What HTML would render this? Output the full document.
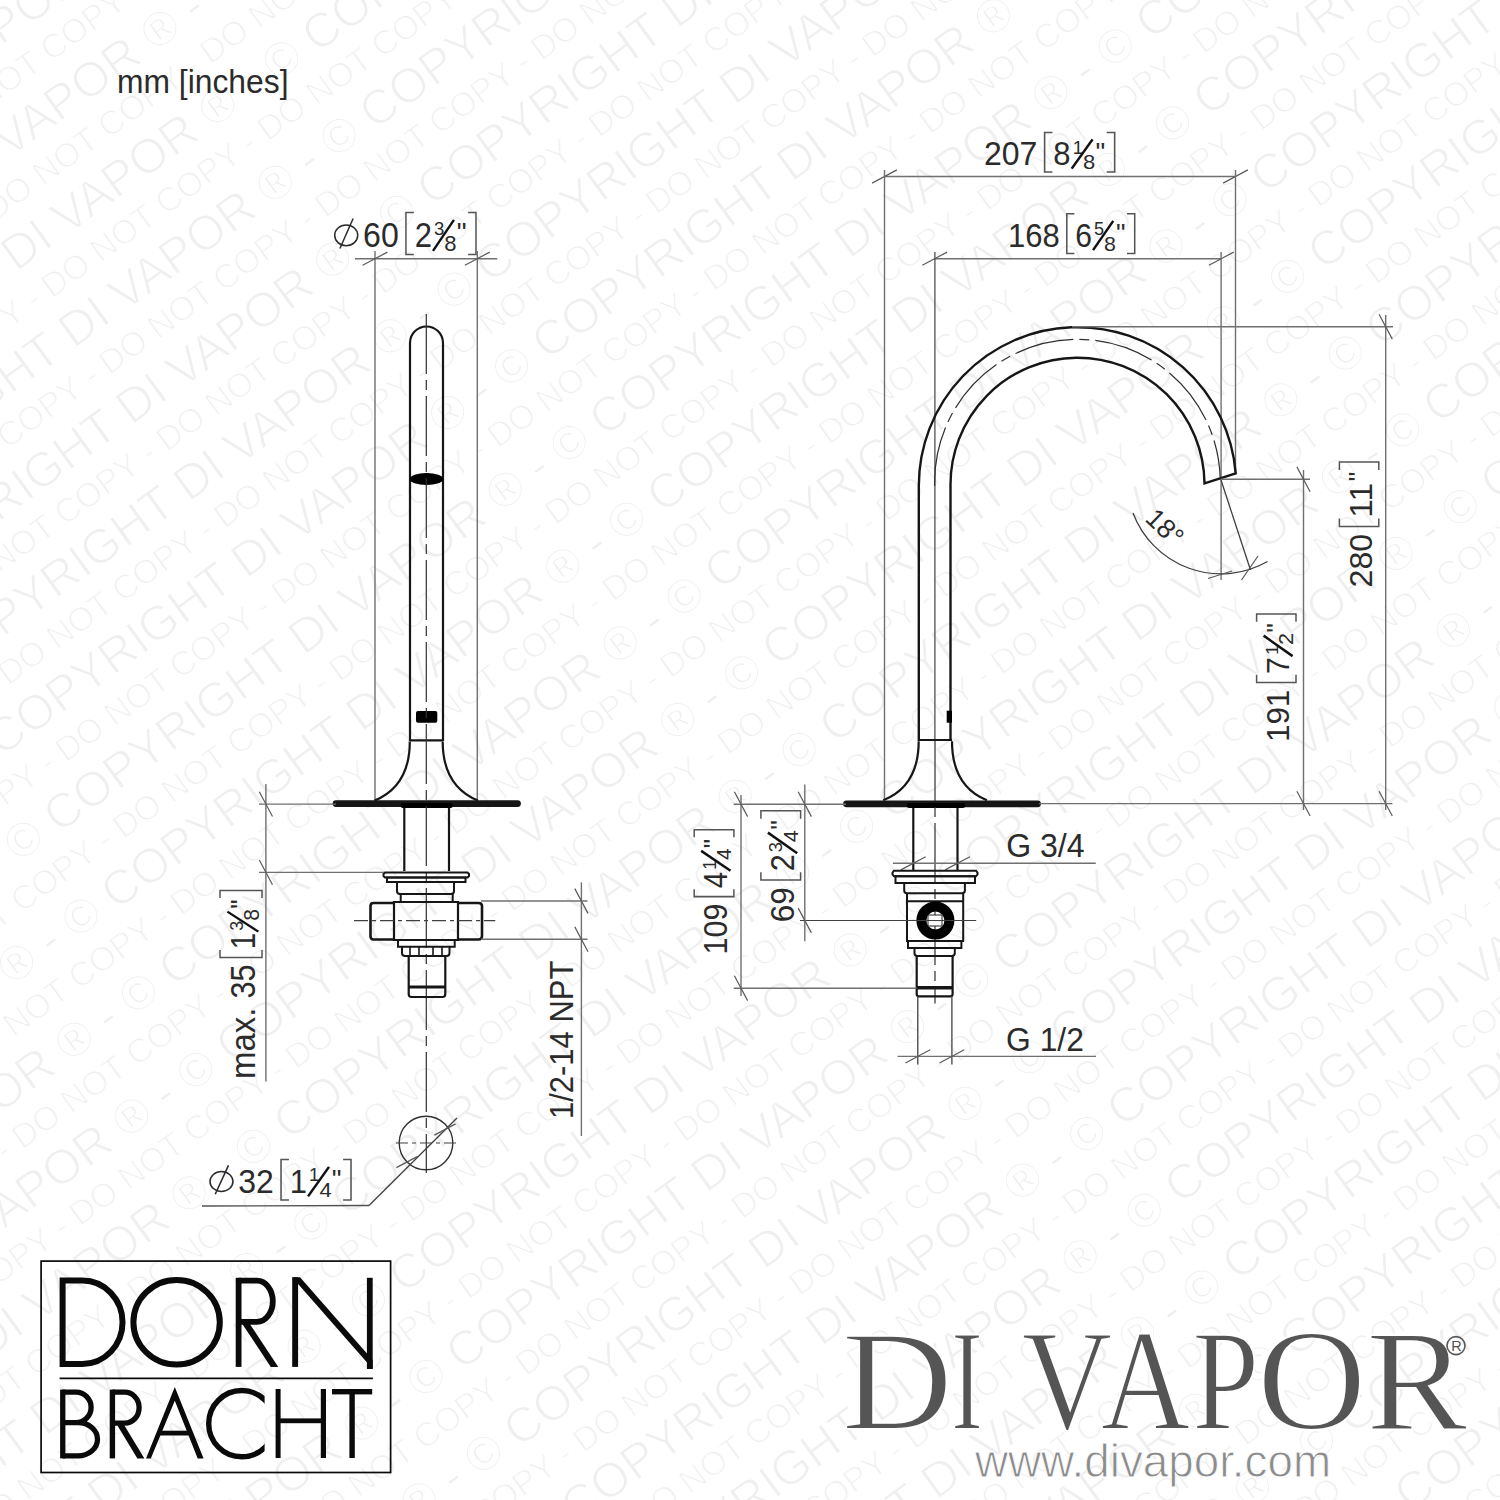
<!DOCTYPE html>
<html><head><meta charset="utf-8"><style>
html,body{margin:0;padding:0;background:#fff;}
svg{display:block;font-family:"Liberation Sans", sans-serif;}
</style></head><body>
<svg width="1500" height="1500" viewBox="0 0 1500 1500">
<rect width="1500" height="1500" fill="#fff"/>
<g transform="rotate(-36)" fill="#efefef" stroke="#fff" stroke-width="1.3" xml:space="preserve"><text x="-1181.1" y="-249.5" font-size="48.8">© COPYRIGHT DI VAPOR ® - © COPYRIGHT DI VAPOR ® - © COPYRIGHT DI VAPOR ® - © COPYRIGHT DI VAPOR ® - © COPYRIGHT DI VAPOR ® - </text><text x="-962.7" y="-207.3" font-size="34">- DO NOT COPY - DO NOT COPY - DO NOT COPY - DO NOT COPY - DO NOT COPY - DO NOT COPY - DO NOT COPY - DO NOT COPY - DO NOT COPY - DO NOT COPY </text><text x="-1179.7" y="-153.6" font-size="48.8">© COPYRIGHT DI VAPOR ® - © COPYRIGHT DI VAPOR ® - © COPYRIGHT DI VAPOR ® - © COPYRIGHT DI VAPOR ® - © COPYRIGHT DI VAPOR ® - </text><text x="-961.3" y="-111.4" font-size="34">- DO NOT COPY - DO NOT COPY - DO NOT COPY - DO NOT COPY - DO NOT COPY - DO NOT COPY - DO NOT COPY - DO NOT COPY - DO NOT COPY - DO NOT COPY </text><text x="-1178.3" y="-57.7" font-size="48.8">© COPYRIGHT DI VAPOR ® - © COPYRIGHT DI VAPOR ® - © COPYRIGHT DI VAPOR ® - © COPYRIGHT DI VAPOR ® - © COPYRIGHT DI VAPOR ® - </text><text x="-959.9" y="-15.5" font-size="34">- DO NOT COPY - DO NOT COPY - DO NOT COPY - DO NOT COPY - DO NOT COPY - DO NOT COPY - DO NOT COPY - DO NOT COPY - DO NOT COPY - DO NOT COPY </text><text x="-1176.9" y="38.2" font-size="48.8">© COPYRIGHT DI VAPOR ® - © COPYRIGHT DI VAPOR ® - © COPYRIGHT DI VAPOR ® - © COPYRIGHT DI VAPOR ® - © COPYRIGHT DI VAPOR ® - </text><text x="-958.5" y="80.4" font-size="34">- DO NOT COPY - DO NOT COPY - DO NOT COPY - DO NOT COPY - DO NOT COPY - DO NOT COPY - DO NOT COPY - DO NOT COPY - DO NOT COPY - DO NOT COPY </text><text x="-1175.5" y="134.1" font-size="48.8">© COPYRIGHT DI VAPOR ® - © COPYRIGHT DI VAPOR ® - © COPYRIGHT DI VAPOR ® - © COPYRIGHT DI VAPOR ® - © COPYRIGHT DI VAPOR ® - </text><text x="-957.1" y="176.3" font-size="34">- DO NOT COPY - DO NOT COPY - DO NOT COPY - DO NOT COPY - DO NOT COPY - DO NOT COPY - DO NOT COPY - DO NOT COPY - DO NOT COPY - DO NOT COPY </text><text x="-1174.1" y="230.0" font-size="48.8">© COPYRIGHT DI VAPOR ® - © COPYRIGHT DI VAPOR ® - © COPYRIGHT DI VAPOR ® - © COPYRIGHT DI VAPOR ® - © COPYRIGHT DI VAPOR ® - </text><text x="-955.7" y="272.2" font-size="34">- DO NOT COPY - DO NOT COPY - DO NOT COPY - DO NOT COPY - DO NOT COPY - DO NOT COPY - DO NOT COPY - DO NOT COPY - DO NOT COPY - DO NOT COPY </text><text x="-1172.7" y="325.9" font-size="48.8">© COPYRIGHT DI VAPOR ® - © COPYRIGHT DI VAPOR ® - © COPYRIGHT DI VAPOR ® - © COPYRIGHT DI VAPOR ® - © COPYRIGHT DI VAPOR ® - </text><text x="-954.3" y="368.1" font-size="34">- DO NOT COPY - DO NOT COPY - DO NOT COPY - DO NOT COPY - DO NOT COPY - DO NOT COPY - DO NOT COPY - DO NOT COPY - DO NOT COPY - DO NOT COPY </text><text x="-1171.3" y="421.8" font-size="48.8">© COPYRIGHT DI VAPOR ® - © COPYRIGHT DI VAPOR ® - © COPYRIGHT DI VAPOR ® - © COPYRIGHT DI VAPOR ® - © COPYRIGHT DI VAPOR ® - </text><text x="-952.9" y="464.0" font-size="34">- DO NOT COPY - DO NOT COPY - DO NOT COPY - DO NOT COPY - DO NOT COPY - DO NOT COPY - DO NOT COPY - DO NOT COPY - DO NOT COPY - DO NOT COPY </text><text x="-1169.9" y="517.7" font-size="48.8">© COPYRIGHT DI VAPOR ® - © COPYRIGHT DI VAPOR ® - © COPYRIGHT DI VAPOR ® - © COPYRIGHT DI VAPOR ® - © COPYRIGHT DI VAPOR ® - </text><text x="-951.5" y="559.9" font-size="34">- DO NOT COPY - DO NOT COPY - DO NOT COPY - DO NOT COPY - DO NOT COPY - DO NOT COPY - DO NOT COPY - DO NOT COPY - DO NOT COPY - DO NOT COPY </text><text x="-1168.5" y="613.6" font-size="48.8">© COPYRIGHT DI VAPOR ® - © COPYRIGHT DI VAPOR ® - © COPYRIGHT DI VAPOR ® - © COPYRIGHT DI VAPOR ® - © COPYRIGHT DI VAPOR ® - </text><text x="-950.1" y="655.8" font-size="34">- DO NOT COPY - DO NOT COPY - DO NOT COPY - DO NOT COPY - DO NOT COPY - DO NOT COPY - DO NOT COPY - DO NOT COPY - DO NOT COPY - DO NOT COPY </text><text x="-1167.1" y="709.5" font-size="48.8">© COPYRIGHT DI VAPOR ® - © COPYRIGHT DI VAPOR ® - © COPYRIGHT DI VAPOR ® - © COPYRIGHT DI VAPOR ® - © COPYRIGHT DI VAPOR ® - </text><text x="-1215.7" y="751.7" font-size="34">- DO NOT COPY - DO NOT COPY - DO NOT COPY - DO NOT COPY - DO NOT COPY - DO NOT COPY - DO NOT COPY - DO NOT COPY - DO NOT COPY - DO NOT COPY </text><text x="-1165.7" y="805.4" font-size="48.8">© COPYRIGHT DI VAPOR ® - © COPYRIGHT DI VAPOR ® - © COPYRIGHT DI VAPOR ® - © COPYRIGHT DI VAPOR ® - © COPYRIGHT DI VAPOR ® - </text><text x="-1214.3" y="847.6" font-size="34">- DO NOT COPY - DO NOT COPY - DO NOT COPY - DO NOT COPY - DO NOT COPY - DO NOT COPY - DO NOT COPY - DO NOT COPY - DO NOT COPY - DO NOT COPY </text><text x="-1164.3" y="901.3" font-size="48.8">© COPYRIGHT DI VAPOR ® - © COPYRIGHT DI VAPOR ® - © COPYRIGHT DI VAPOR ® - © COPYRIGHT DI VAPOR ® - © COPYRIGHT DI VAPOR ® - </text><text x="-1212.9" y="943.5" font-size="34">- DO NOT COPY - DO NOT COPY - DO NOT COPY - DO NOT COPY - DO NOT COPY - DO NOT COPY - DO NOT COPY - DO NOT COPY - DO NOT COPY - DO NOT COPY </text><text x="-1162.9" y="997.2" font-size="48.8">© COPYRIGHT DI VAPOR ® - © COPYRIGHT DI VAPOR ® - © COPYRIGHT DI VAPOR ® - © COPYRIGHT DI VAPOR ® - © COPYRIGHT DI VAPOR ® - </text><text x="-1211.5" y="1039.4" font-size="34">- DO NOT COPY - DO NOT COPY - DO NOT COPY - DO NOT COPY - DO NOT COPY - DO NOT COPY - DO NOT COPY - DO NOT COPY - DO NOT COPY - DO NOT COPY </text><text x="-1161.5" y="1093.1" font-size="48.8">© COPYRIGHT DI VAPOR ® - © COPYRIGHT DI VAPOR ® - © COPYRIGHT DI VAPOR ® - © COPYRIGHT DI VAPOR ® - © COPYRIGHT DI VAPOR ® - </text><text x="-1210.1" y="1135.3" font-size="34">- DO NOT COPY - DO NOT COPY - DO NOT COPY - DO NOT COPY - DO NOT COPY - DO NOT COPY - DO NOT COPY - DO NOT COPY - DO NOT COPY - DO NOT COPY </text><text x="-1160.1" y="1189.0" font-size="48.8">© COPYRIGHT DI VAPOR ® - © COPYRIGHT DI VAPOR ® - © COPYRIGHT DI VAPOR ® - © COPYRIGHT DI VAPOR ® - © COPYRIGHT DI VAPOR ® - </text><text x="-1208.7" y="1231.2" font-size="34">- DO NOT COPY - DO NOT COPY - DO NOT COPY - DO NOT COPY - DO NOT COPY - DO NOT COPY - DO NOT COPY - DO NOT COPY - DO NOT COPY - DO NOT COPY </text><text x="-1158.7" y="1284.9" font-size="48.8">© COPYRIGHT DI VAPOR ® - © COPYRIGHT DI VAPOR ® - © COPYRIGHT DI VAPOR ® - © COPYRIGHT DI VAPOR ® - © COPYRIGHT DI VAPOR ® - </text><text x="-1207.3" y="1327.1" font-size="34">- DO NOT COPY - DO NOT COPY - DO NOT COPY - DO NOT COPY - DO NOT COPY - DO NOT COPY - DO NOT COPY - DO NOT COPY - DO NOT COPY - DO NOT COPY </text><text x="-1157.3" y="1380.8" font-size="48.8">© COPYRIGHT DI VAPOR ® - © COPYRIGHT DI VAPOR ® - © COPYRIGHT DI VAPOR ® - © COPYRIGHT DI VAPOR ® - © COPYRIGHT DI VAPOR ® - </text><text x="-1205.9" y="1423.0" font-size="34">- DO NOT COPY - DO NOT COPY - DO NOT COPY - DO NOT COPY - DO NOT COPY - DO NOT COPY - DO NOT COPY - DO NOT COPY - DO NOT COPY - DO NOT COPY </text><text x="-1155.9" y="1476.7" font-size="48.8">© COPYRIGHT DI VAPOR ® - © COPYRIGHT DI VAPOR ® - © COPYRIGHT DI VAPOR ® - © COPYRIGHT DI VAPOR ® - © COPYRIGHT DI VAPOR ® - </text><text x="-1204.5" y="1518.9" font-size="34">- DO NOT COPY - DO NOT COPY - DO NOT COPY - DO NOT COPY - DO NOT COPY - DO NOT COPY - DO NOT COPY - DO NOT COPY - DO NOT COPY - DO NOT COPY </text><text x="-1154.5" y="1572.6" font-size="48.8">© COPYRIGHT DI VAPOR ® - © COPYRIGHT DI VAPOR ® - © COPYRIGHT DI VAPOR ® - © COPYRIGHT DI VAPOR ® - © COPYRIGHT DI VAPOR ® - </text><text x="-1203.1" y="1614.8" font-size="34">- DO NOT COPY - DO NOT COPY - DO NOT COPY - DO NOT COPY - DO NOT COPY - DO NOT COPY - DO NOT COPY - DO NOT COPY - DO NOT COPY - DO NOT COPY </text><text x="-1153.1" y="1668.5" font-size="48.8">© COPYRIGHT DI VAPOR ® - © COPYRIGHT DI VAPOR ® - © COPYRIGHT DI VAPOR ® - © COPYRIGHT DI VAPOR ® - © COPYRIGHT DI VAPOR ® - </text><text x="-1201.7" y="1710.7" font-size="34">- DO NOT COPY - DO NOT COPY - DO NOT COPY - DO NOT COPY - DO NOT COPY - DO NOT COPY - DO NOT COPY - DO NOT COPY - DO NOT COPY - DO NOT COPY </text><text x="-1151.7" y="1764.4" font-size="48.8">© COPYRIGHT DI VAPOR ® - © COPYRIGHT DI VAPOR ® - © COPYRIGHT DI VAPOR ® - © COPYRIGHT DI VAPOR ® - © COPYRIGHT DI VAPOR ® - </text><text x="-1200.3" y="1806.6" font-size="34">- DO NOT COPY - DO NOT COPY - DO NOT COPY - DO NOT COPY - DO NOT COPY - DO NOT COPY - DO NOT COPY - DO NOT COPY - DO NOT COPY - DO NOT COPY </text><text x="-1150.3" y="1860.3" font-size="48.8">© COPYRIGHT DI VAPOR ® - © COPYRIGHT DI VAPOR ® - © COPYRIGHT DI VAPOR ® - © COPYRIGHT DI VAPOR ® - © COPYRIGHT DI VAPOR ® - </text><text x="-1198.9" y="1902.5" font-size="34">- DO NOT COPY - DO NOT COPY - DO NOT COPY - DO NOT COPY - DO NOT COPY - DO NOT COPY - DO NOT COPY - DO NOT COPY - DO NOT COPY - DO NOT COPY </text><text x="-1148.9" y="1956.2" font-size="48.8">© COPYRIGHT DI VAPOR ® - © COPYRIGHT DI VAPOR ® - © COPYRIGHT DI VAPOR ® - © COPYRIGHT DI VAPOR ® - © COPYRIGHT DI VAPOR ® - </text><text x="-1197.5" y="1998.4" font-size="34">- DO NOT COPY - DO NOT COPY - DO NOT COPY - DO NOT COPY - DO NOT COPY - DO NOT COPY - DO NOT COPY - DO NOT COPY - DO NOT COPY - DO NOT COPY </text><text x="-1147.5" y="2052.1" font-size="48.8">© COPYRIGHT DI VAPOR ® - © COPYRIGHT DI VAPOR ® - © COPYRIGHT DI VAPOR ® - © COPYRIGHT DI VAPOR ® - © COPYRIGHT DI VAPOR ® - </text><text x="-1196.1" y="2094.3" font-size="34">- DO NOT COPY - DO NOT COPY - DO NOT COPY - DO NOT COPY - DO NOT COPY - DO NOT COPY - DO NOT COPY - DO NOT COPY - DO NOT COPY - DO NOT COPY </text><text x="-1146.1" y="2148.0" font-size="48.8">© COPYRIGHT DI VAPOR ® - © COPYRIGHT DI VAPOR ® - © COPYRIGHT DI VAPOR ® - © COPYRIGHT DI VAPOR ® - © COPYRIGHT DI VAPOR ® - </text><text x="-1194.7" y="2190.2" font-size="34">- DO NOT COPY - DO NOT COPY - DO NOT COPY - DO NOT COPY - DO NOT COPY - DO NOT COPY - DO NOT COPY - DO NOT COPY - DO NOT COPY - DO NOT COPY </text></g>
<text x="117.0" y="92.5" font-size="33" fill="#2b2b2b" text-anchor="start" textLength="171.5" lengthAdjust="spacingAndGlyphs" >mm [inches]</text>
<line x1="355.0" y1="258.7" x2="497.3" y2="258.7" stroke="#707070" stroke-width="1.4" />
<line x1="375.0" y1="251.0" x2="375.0" y2="800.5" stroke="#707070" stroke-width="1.4" />
<line x1="477.3" y1="251.0" x2="477.3" y2="800.5" stroke="#707070" stroke-width="1.4" />
<line x1="362.6" y1="265.3" x2="387.4" y2="252.1" stroke="#5a5a5a" stroke-width="1.2" />
<line x1="464.9" y1="265.3" x2="489.7" y2="252.1" stroke="#5a5a5a" stroke-width="1.2" />
<g transform="translate(334.7,247.3) scale(1.002,1)"><ellipse cx="11.5" cy="-12.0" rx="11.5" ry="10.4" stroke="#2b2b2b" stroke-width="1.5" fill="none"/><line x1="5.2" y1="1.2" x2="18.4" y2="-28.8" stroke="#2b2b2b" stroke-width="1.5"/><text x="28.3" y="0" font-size="34.4" fill="#2b2b2b" textLength="35.6" lengthAdjust="spacingAndGlyphs">60</text><path d="M79.0,-34.8 H71.1 V7.2 H79.0" stroke="#555" stroke-width="1.5" fill="none"/><text x="79.8" y="0" font-size="34.4" fill="#2b2b2b" textLength="17.2" lengthAdjust="spacingAndGlyphs">2</text><text x="99.1" y="-12.2" font-size="18.6" fill="#2b2b2b">3</text><line x1="98.1" y1="3.6" x2="119.0" y2="-27.4" stroke="#111" stroke-width="2.4"/><text x="109.4" y="4.1" font-size="22.0" fill="#2b2b2b">8</text><text x="121.8" y="-5.0" font-size="27.5" fill="#2b2b2b">"</text><path d="M133.1,-34.8 H141.0 V7.2 H133.1" stroke="#555" stroke-width="1.5" fill="none"/></g>
<path d="M410,741 V343 A16.5,16.5 0 0 1 443,343 V741" stroke="#161616" stroke-width="2.2" fill="none" />
<path d="M410,740.3 H443" stroke="#161616" stroke-width="2.2" fill="none" />
<ellipse cx="426.5" cy="479" rx="16.8" ry="6" fill="#000"/>
<rect x="416" y="711" width="21.3" height="11.7" rx="2" fill="#000"/>
<path d="M409.8,741.5 Q409.8,786 374.6,800.6" stroke="#161616" stroke-width="2.2" fill="none" />
<path d="M442.7,741.5 Q442.7,786 477.9,800.6" stroke="#161616" stroke-width="2.2" fill="none" />
<path d="M336,803.6 H517.5" stroke="#161616" stroke-width="6.8" fill="none" stroke-linecap="round"/>
<rect x="400.7" y="803" width="52" height="5" rx="2" fill="#000"/>
<line x1="426.3" y1="314.0" x2="426.3" y2="1173.0" stroke="#303030" stroke-width="1.2" stroke-dasharray="60,6,10,6"/>
<path d="M404.3,808 V871" stroke="#161616" stroke-width="2.2" fill="none" />
<path d="M449,808 V871" stroke="#161616" stroke-width="2.2" fill="none" />
<path d="M385,872.5 H467.5 L469,874 V876 L467.5,877.5 H385 L383.5,876 V874 Z" stroke="#161616" stroke-width="2" fill="none" />
<path d="M387,877.5 H465.5 V882 H387 Z" stroke="#161616" stroke-width="2" fill="none" />
<path d="M397,882.5 V891 Q397,894 400,894 H451 Q454,894 454,891 V882.5" stroke="#161616" stroke-width="2" fill="none" />
<path d="M400.7,894 V902 M452.7,894 V902" stroke="#161616" stroke-width="2" fill="none" />
<path d="M394,902 H458 V940 H394 Z" stroke="#161616" stroke-width="2.2" fill="none" />
<path d="M394,903 H373.5 Q370.5,903 370.5,906 V936 Q370.5,939.5 373.5,939.5 H394" stroke="#161616" stroke-width="2.6" fill="none" />
<path d="M458,903 H478.5 Q482,903 482,906 V936 Q482,939.5 478.5,939.5 H458" stroke="#161616" stroke-width="2.6" fill="none" />
<line x1="354.0" y1="920.7" x2="495.3" y2="920.7" stroke="#404040" stroke-width="1.2" stroke-dasharray="14,4,4,4"/>
<path d="M398,940 V946.7 H454.7 V940" stroke="#161616" stroke-width="2" fill="none" />
<path d="M402,946.7 V953 Q402,956 405,956 H446.5 Q449.5,956 449.5,953 V946.7" stroke="#161616" stroke-width="2" fill="none" />
<path d="M410,946.7 V956 M419,946.7 V956 M433,946.7 V956 M442,946.7 V956" stroke="#161616" stroke-width="1.6" fill="none" />
<path d="M408.7,956 V994 Q408.7,997 411.5,997 H442.5 Q445.3,997 445.3,994 V956" stroke="#161616" stroke-width="2.2" fill="none" />
<path d="M408.7,987 H445.3" stroke="#161616" stroke-width="3.2" fill="none" />
<line x1="265.9" y1="784.0" x2="265.9" y2="1081.4" stroke="#707070" stroke-width="1.4" />
<line x1="259.0" y1="804.1" x2="336.0" y2="804.1" stroke="#707070" stroke-width="1.4" />
<line x1="259.0" y1="872.4" x2="384.0" y2="872.4" stroke="#707070" stroke-width="1.4" />
<line x1="259.3" y1="791.7" x2="272.5" y2="816.5" stroke="#5a5a5a" stroke-width="1.2" />
<line x1="259.3" y1="860.0" x2="272.5" y2="884.8" stroke="#5a5a5a" stroke-width="1.2" />
<g transform="translate(254.8,1079.0) rotate(-90) scale(0.958,1)"><text x="0.0" y="0" font-size="34.4" fill="#2b2b2b">max. </text><text x="84.1" y="0" font-size="34.4" fill="#2b2b2b" textLength="35.6" lengthAdjust="spacingAndGlyphs">35</text><path d="M134.7,-34.8 H126.8 V7.2 H134.7" stroke="#555" stroke-width="1.5" fill="none"/><text x="135.5" y="0" font-size="34.4" fill="#2b2b2b" textLength="17.2" lengthAdjust="spacingAndGlyphs">1</text><text x="154.8" y="-12.2" font-size="18.6" fill="#2b2b2b">3</text><line x1="153.8" y1="3.6" x2="174.7" y2="-27.4" stroke="#111" stroke-width="2.4"/><text x="165.1" y="4.1" font-size="22.0" fill="#2b2b2b">8</text><text x="177.6" y="-5.0" font-size="27.5" fill="#2b2b2b">"</text><path d="M188.9,-34.8 H196.8 V7.2 H188.9" stroke="#555" stroke-width="1.5" fill="none"/></g>
<line x1="581.4" y1="882.4" x2="581.4" y2="1136.0" stroke="#707070" stroke-width="1.4" />
<line x1="481.0" y1="901.0" x2="587.5" y2="901.0" stroke="#707070" stroke-width="1.4" />
<line x1="481.0" y1="939.3" x2="587.5" y2="939.3" stroke="#707070" stroke-width="1.4" />
<line x1="574.8" y1="888.6" x2="588.0" y2="913.4" stroke="#5a5a5a" stroke-width="1.2" />
<line x1="574.8" y1="926.9" x2="588.0" y2="951.7" stroke="#5a5a5a" stroke-width="1.2" />
<g transform="translate(572.6,1119) rotate(-90)"><text x="0" y="0" font-size="32.5" fill="#2b2b2b" textLength="158.3" lengthAdjust="spacingAndGlyphs">1/2-14 NPT</text></g>
<circle cx="426" cy="1143" r="26.8" stroke="#303030" stroke-width="1.4" fill="none"/>
<line x1="396.0" y1="1143.0" x2="458.0" y2="1143.0" stroke="#404040" stroke-width="1.1" stroke-dasharray="12,4,4,4"/>
<line x1="457.0" y1="1118.0" x2="369.0" y2="1205.5" stroke="#404040" stroke-width="1.3" />
<line x1="369.0" y1="1205.5" x2="202.0" y2="1206.0" stroke="#505050" stroke-width="1.4" />
<line x1="434.4" y1="1135.1" x2="455.6" y2="1123.9" stroke="#5a5a5a" stroke-width="1.2" />
<line x1="396.4" y1="1167.6" x2="417.6" y2="1156.4" stroke="#5a5a5a" stroke-width="1.2" />
<g transform="translate(210.0,1193.0) scale(1.043,1)"><ellipse cx="11.0" cy="-11.5" rx="11.0" ry="9.9" stroke="#2b2b2b" stroke-width="1.5" fill="none"/><line x1="5.0" y1="1.2" x2="17.7" y2="-27.6" stroke="#2b2b2b" stroke-width="1.5"/><text x="27.1" y="0" font-size="33.0" fill="#2b2b2b" textLength="34.1" lengthAdjust="spacingAndGlyphs">32</text><path d="M75.7,-33.4 H68.1 V6.9 H75.7" stroke="#555" stroke-width="1.5" fill="none"/><text x="76.5" y="0" font-size="33.0" fill="#2b2b2b" textLength="16.5" lengthAdjust="spacingAndGlyphs">1</text><text x="95.0" y="-11.7" font-size="17.8" fill="#2b2b2b">1</text><line x1="94.0" y1="3.4" x2="114.1" y2="-26.2" stroke="#111" stroke-width="2.4"/><text x="104.9" y="3.9" font-size="21.1" fill="#2b2b2b">4</text><text x="116.8" y="-4.8" font-size="26.4" fill="#2b2b2b">"</text><path d="M127.6,-33.4 H135.2 V6.9 H127.6" stroke="#555" stroke-width="1.5" fill="none"/></g>
<line x1="884.0" y1="176.5" x2="1236.0" y2="176.5" stroke="#707070" stroke-width="1.4" />
<line x1="872.1" y1="183.1" x2="896.9" y2="169.9" stroke="#5a5a5a" stroke-width="1.2" />
<line x1="1223.1" y1="183.1" x2="1247.9" y2="169.9" stroke="#5a5a5a" stroke-width="1.2" />
<line x1="884.5" y1="170.0" x2="884.5" y2="800.5" stroke="#707070" stroke-width="1.4" />
<line x1="1235.5" y1="170.0" x2="1235.5" y2="473.0" stroke="#707070" stroke-width="1.4" />
<g transform="translate(984.0,165.3) scale(1.058,1)"><text x="0.0" y="0" font-size="32.5" fill="#2b2b2b" textLength="50.4" lengthAdjust="spacingAndGlyphs">207</text><path d="M64.7,-32.9 H57.3 V6.8 H64.7" stroke="#555" stroke-width="1.5" fill="none"/><text x="65.5" y="0" font-size="32.5" fill="#2b2b2b" textLength="16.3" lengthAdjust="spacingAndGlyphs">8</text><text x="83.9" y="-11.6" font-size="17.6" fill="#2b2b2b">1</text><line x1="82.9" y1="3.4" x2="102.6" y2="-25.9" stroke="#111" stroke-width="2.4"/><text x="93.5" y="3.9" font-size="20.8" fill="#2b2b2b">8</text><text x="105.3" y="-4.8" font-size="26.0" fill="#2b2b2b">"</text><path d="M116.0,-32.9 H123.5 V6.8 H116.0" stroke="#555" stroke-width="1.5" fill="none"/></g>
<line x1="934.7" y1="258.7" x2="1221.3" y2="258.7" stroke="#707070" stroke-width="1.4" />
<line x1="922.3" y1="265.3" x2="947.1" y2="252.1" stroke="#5a5a5a" stroke-width="1.2" />
<line x1="1208.9" y1="265.3" x2="1233.7" y2="252.1" stroke="#5a5a5a" stroke-width="1.2" />
<line x1="934.9" y1="252.0" x2="934.9" y2="741.0" stroke="#505050" stroke-width="1.3" />
<line x1="1221.1" y1="252.0" x2="1221.1" y2="580.0" stroke="#707070" stroke-width="1.4" />
<g transform="translate(1008.0,246.7) scale(1.026,1)"><text x="0.0" y="0" font-size="32.5" fill="#2b2b2b" textLength="50.4" lengthAdjust="spacingAndGlyphs">168</text><path d="M64.7,-32.9 H57.3 V6.8 H64.7" stroke="#555" stroke-width="1.5" fill="none"/><text x="65.5" y="0" font-size="32.5" fill="#2b2b2b" textLength="16.3" lengthAdjust="spacingAndGlyphs">6</text><text x="83.9" y="-11.6" font-size="17.6" fill="#2b2b2b">5</text><line x1="82.9" y1="3.4" x2="102.6" y2="-25.9" stroke="#111" stroke-width="2.4"/><text x="93.5" y="3.9" font-size="20.8" fill="#2b2b2b">8</text><text x="105.3" y="-4.8" font-size="26.0" fill="#2b2b2b">"</text><path d="M116.0,-32.9 H123.5 V6.8 H116.0" stroke="#555" stroke-width="1.5" fill="none"/></g>
<path d="M918.8,741 V486 A158.7,158.7 0 0 1 1235.7,473.3 L1204.5,483.4 A127,127 0 0 0 950.5,486 V741" stroke="#161616" stroke-width="2.4" fill="none" />
<path d="M934.7,486 A142.8,142.8 0 0 1 1220.2,478.3" stroke="#303030" stroke-width="1.2" fill="none" stroke-dasharray="60,6,10,6"/>
<path d="M918.7,740 H952" stroke="#161616" stroke-width="2.2" fill="none" />
<rect x="946.7" y="710.7" width="5.3" height="12" fill="#000"/>
<path d="M918.7,741.3 Q918.7,786 883.3,800.3" stroke="#161616" stroke-width="2.2" fill="none" />
<path d="M952,741.3 Q952,786 986.9,800.3" stroke="#161616" stroke-width="2.2" fill="none" />
<path d="M846.5,803.8 H1037.5" stroke="#161616" stroke-width="6.8" fill="none" stroke-linecap="round"/>
<rect x="907" y="803" width="58" height="5" rx="2" fill="#000"/>
<line x1="935.0" y1="741.0" x2="935.0" y2="1003.6" stroke="#303030" stroke-width="1.2" stroke-dasharray="60,6,10,6"/>
<line x1="1072.0" y1="326.7" x2="1393.0" y2="326.7" stroke="#707070" stroke-width="1.4" />
<line x1="1385.7" y1="315.0" x2="1385.7" y2="810.0" stroke="#707070" stroke-width="1.4" />
<line x1="1379.1" y1="314.3" x2="1392.3" y2="339.1" stroke="#5a5a5a" stroke-width="1.2" />
<line x1="1379.1" y1="791.2" x2="1392.3" y2="816.0" stroke="#5a5a5a" stroke-width="1.2" />
<line x1="1221.0" y1="479.3" x2="1310.0" y2="479.3" stroke="#707070" stroke-width="1.4" />
<line x1="1303.5" y1="470.0" x2="1303.5" y2="810.0" stroke="#707070" stroke-width="1.4" />
<line x1="1296.9" y1="466.9" x2="1310.1" y2="491.7" stroke="#5a5a5a" stroke-width="1.2" />
<line x1="1296.9" y1="791.2" x2="1310.1" y2="816.0" stroke="#5a5a5a" stroke-width="1.2" />
<line x1="1039.0" y1="803.6" x2="1392.4" y2="803.6" stroke="#707070" stroke-width="1.4" />
<g transform="translate(1372.0,587.5) rotate(-90) scale(1.074,1)"><text x="0.0" y="0" font-size="32.2" fill="#2b2b2b" textLength="50.0" lengthAdjust="spacingAndGlyphs">280</text><path d="M64.2,-32.6 H56.8 V6.8 H64.2" stroke="#555" stroke-width="1.5" fill="none"/><text x="65.0" y="0" font-size="32.2" fill="#2b2b2b" textLength="32.3" lengthAdjust="spacingAndGlyphs">11</text><text x="98.8" y="-4.7" font-size="25.8" fill="#2b2b2b">"</text><path d="M109.4,-32.6 H116.8 V6.8 H109.4" stroke="#555" stroke-width="1.5" fill="none"/></g>
<g transform="translate(1289.2,742.0) rotate(-90) scale(1.046,1)"><text x="0.0" y="0" font-size="32.2" fill="#2b2b2b" textLength="50.0" lengthAdjust="spacingAndGlyphs">191</text><path d="M64.2,-32.6 H56.8 V6.8 H64.2" stroke="#555" stroke-width="1.5" fill="none"/><text x="65.0" y="0" font-size="32.2" fill="#2b2b2b" textLength="16.1" lengthAdjust="spacingAndGlyphs">7</text><text x="83.1" y="-11.5" font-size="17.4" fill="#2b2b2b">1</text><line x1="82.1" y1="3.4" x2="101.7" y2="-25.6" stroke="#111" stroke-width="2.4"/><text x="92.7" y="3.8" font-size="20.6" fill="#2b2b2b">2</text><text x="104.4" y="-4.7" font-size="25.8" fill="#2b2b2b">"</text><path d="M115.0,-32.6 H122.4 V6.8 H115.0" stroke="#555" stroke-width="1.5" fill="none"/></g>
<line x1="1221.0" y1="480.0" x2="1250.5" y2="570.0" stroke="#404040" stroke-width="1.3" />
<path d="M1133,513 A94,94 0 0 0 1267.5,561.5" stroke="#404040" stroke-width="1.3" fill="none" />
<line x1="1208.0" y1="578.5" x2="1232.0" y2="571.0" stroke="#5a5a5a" stroke-width="1.2" />
<line x1="1241.5" y1="580.0" x2="1258.0" y2="556.0" stroke="#5a5a5a" stroke-width="1.2" />
<g transform="translate(1144,520) rotate(44)"><text x="0" y="0" font-size="27" fill="#2b2b2b" textLength="40" lengthAdjust="spacingAndGlyphs">18°</text></g>
<path d="M913.3,808 V871" stroke="#161616" stroke-width="2.2" fill="none" />
<path d="M957.5,808 V871" stroke="#161616" stroke-width="2.2" fill="none" />
<line x1="892.9" y1="863.3" x2="1095.8" y2="863.3" stroke="#707070" stroke-width="1.4" />
<line x1="900.9" y1="869.9" x2="925.7" y2="856.7" stroke="#5a5a5a" stroke-width="1.2" />
<line x1="945.1" y1="869.9" x2="969.9" y2="856.7" stroke="#5a5a5a" stroke-width="1.2" />
<text x="1006.2" y="856.9" font-size="33" fill="#2b2b2b" text-anchor="start" textLength="78.4" lengthAdjust="spacingAndGlyphs" >G 3/4</text>
<path d="M894,870.7 H976 L977.5,872.5 V874.5 L976,876.3 H894 L892.5,874.5 V872.5 Z" stroke="#161616" stroke-width="2" fill="none" />
<path d="M895.5,876.3 H975 V883 H895.5 Z" stroke="#161616" stroke-width="2" fill="none" />
<path d="M904.2,883 V890.5 Q904.2,893.3 907,893.3 H962 Q964.9,893.3 964.9,890.5 V883" stroke="#161616" stroke-width="2" fill="none" />
<path d="M907,893.3 V941 H963.2 V893.3 M907,901.3 H963.2" stroke="#161616" stroke-width="2" fill="none" />
<circle cx="935.4" cy="920.5" r="14" stroke="#000" stroke-width="10" fill="none"/>
<rect x="928" y="915" width="14" height="11" fill="#fff" stroke="#222" stroke-width="1"/>
<line x1="800.0" y1="920.5" x2="976.2" y2="920.5" stroke="#404040" stroke-width="1.2" />
<path d="M908,941 V947.9 H961.4 V941" stroke="#161616" stroke-width="2" fill="none" />
<path d="M914.5,947.9 V953 Q914.5,956 917.5,956 H951.8 Q954.8,956 954.8,953 V947.9" stroke="#161616" stroke-width="2" fill="none" />
<path d="M916.7,956 V994 Q916.7,996.3 919,996.3 H950.3 Q952.6,996.3 952.6,994 V956" stroke="#161616" stroke-width="2.2" fill="none" />
<path d="M916.7,987.8 H952.6" stroke="#161616" stroke-width="3.4" fill="none" />
<line x1="917.8" y1="996.0" x2="917.8" y2="1064.5" stroke="#404040" stroke-width="1.3" />
<line x1="951.9" y1="996.0" x2="951.9" y2="1064.5" stroke="#404040" stroke-width="1.3" />
<line x1="897.6" y1="1056.4" x2="1096.0" y2="1056.4" stroke="#707070" stroke-width="1.4" />
<line x1="905.4" y1="1063.0" x2="930.2" y2="1049.8" stroke="#5a5a5a" stroke-width="1.2" />
<line x1="939.5" y1="1063.0" x2="964.3" y2="1049.8" stroke="#5a5a5a" stroke-width="1.2" />
<text x="1006.1" y="1050.5" font-size="33" fill="#2b2b2b" text-anchor="start" textLength="77.8" lengthAdjust="spacingAndGlyphs" >G 1/2</text>
<line x1="741.0" y1="795.0" x2="741.0" y2="996.0" stroke="#707070" stroke-width="1.4" />
<line x1="733.7" y1="804.2" x2="846.0" y2="804.2" stroke="#707070" stroke-width="1.4" />
<line x1="733.7" y1="988.2" x2="916.7" y2="988.2" stroke="#707070" stroke-width="1.4" />
<line x1="734.4" y1="791.8" x2="747.6" y2="816.6" stroke="#5a5a5a" stroke-width="1.2" />
<line x1="734.4" y1="975.8" x2="747.6" y2="1000.6" stroke="#5a5a5a" stroke-width="1.2" />
<g transform="translate(727.1,954.5) rotate(-90) scale(1.010,1)"><text x="0.0" y="0" font-size="32.5" fill="#2b2b2b" textLength="50.4" lengthAdjust="spacingAndGlyphs">109</text><path d="M64.7,-32.9 H57.3 V6.8 H64.7" stroke="#555" stroke-width="1.5" fill="none"/><text x="65.5" y="0" font-size="32.5" fill="#2b2b2b" textLength="16.3" lengthAdjust="spacingAndGlyphs">4</text><text x="83.9" y="-11.6" font-size="17.6" fill="#2b2b2b">1</text><line x1="82.9" y1="3.4" x2="102.6" y2="-25.9" stroke="#111" stroke-width="2.4"/><text x="93.5" y="3.9" font-size="20.8" fill="#2b2b2b">4</text><text x="105.3" y="-4.8" font-size="26.0" fill="#2b2b2b">"</text><path d="M116.0,-32.9 H123.5 V6.8 H116.0" stroke="#555" stroke-width="1.5" fill="none"/></g>
<line x1="804.8" y1="784.4" x2="804.8" y2="941.3" stroke="#707070" stroke-width="1.4" />
<line x1="798.2" y1="791.8" x2="811.4" y2="816.6" stroke="#5a5a5a" stroke-width="1.2" />
<line x1="798.2" y1="908.1" x2="811.4" y2="932.9" stroke="#5a5a5a" stroke-width="1.2" />
<g transform="translate(793.8,922.2) rotate(-90) scale(1.044,1)"><text x="0.0" y="0" font-size="32.5" fill="#2b2b2b" textLength="33.6" lengthAdjust="spacingAndGlyphs">69</text><path d="M47.9,-32.9 H40.4 V6.8 H47.9" stroke="#555" stroke-width="1.5" fill="none"/><text x="48.7" y="0" font-size="32.5" fill="#2b2b2b" textLength="16.3" lengthAdjust="spacingAndGlyphs">2</text><text x="67.0" y="-11.6" font-size="17.6" fill="#2b2b2b">3</text><line x1="66.0" y1="3.4" x2="85.8" y2="-25.9" stroke="#111" stroke-width="2.4"/><text x="76.7" y="3.9" font-size="20.8" fill="#2b2b2b">4</text><text x="88.5" y="-4.8" font-size="26.0" fill="#2b2b2b">"</text><path d="M99.2,-32.9 H106.7 V6.8 H99.2" stroke="#555" stroke-width="1.5" fill="none"/></g>
<rect x="41.1" y="1261.1" width="349.5" height="211.4" stroke="#0a0a0a" stroke-width="1.7" fill="none"/>
<line x1="59.6" y1="1378.3" x2="372.9" y2="1378.3" stroke="#0a0a0a" stroke-width="1.7"/>
<path d="M62.6,1364 V1280.6 H82.4 A40.2,41.7 0 0 1 82.4,1364 Z" stroke="#0a0a0a" stroke-width="6.0" fill="none" stroke-linejoin="miter"/><ellipse cx="176.6" cy="1322.3" rx="43.2" ry="42.3" stroke="#0a0a0a" stroke-width="6.0" fill="none"/><rect x="235.7" y="1277.8" width="5.8" height="89.1" fill="#0a0a0a"/><path d="M238.6,1280.7 H257 A15.8,20.55 0 0 1 257,1321.8 H238.6" stroke="#0a0a0a" stroke-width="5.8" fill="none"/><polygon points="242,1323.5 249.5,1323.5 278.3,1366.9 270.8,1366.9" fill="#0a0a0a"/><rect x="292.2" y="1277.3" width="5.9" height="89.6" fill="#0a0a0a"/><polygon points="292.2,1277.3 300.05,1277.3 372.7,1360.1 372.7,1369" fill="#0a0a0a"/><rect x="366.9" y="1277.8" width="5.8" height="91.2" fill="#0a0a0a"/><rect x="60.1" y="1389.6" width="5.3" height="68.8" fill="#0a0a0a"/><path d="M62.6,1392.2 H76 A15.1,15.2 0 0 1 76,1422.6 H62.6 M76,1422.6 H78 A19.5,16.6 0 0 1 78,1455.8 H62.6" stroke="#0a0a0a" stroke-width="5.3" fill="none"/><rect x="109.7" y="1389.6" width="5.4" height="68.8" fill="#0a0a0a"/><path d="M112.4,1392.2 H124.7 A14.4,15.5 0 0 1 124.7,1423.2 H112.4" stroke="#0a0a0a" stroke-width="5.3" fill="none"/><polygon points="116.5,1424 123.5,1424 144.4,1458.4 137.4,1458.4" fill="#0a0a0a"/><polygon points="174.8,1386.9 203.6,1458.4 197.7,1458.4 174.8,1400.8 150.8,1458.4 146,1458.4" fill="#0a0a0a"/><rect x="159" y="1430.7" width="32" height="4.8" fill="#0a0a0a"/><defs><clipPath id="cc"><rect x="190" y="1380" width="74.6" height="90"/></clipPath></defs><circle cx="241.8" cy="1423.65" r="33.1" stroke="#0a0a0a" stroke-width="5.4" fill="none" clip-path="url(#cc)"/><rect x="275.6" y="1389" width="5.0" height="69" fill="#0a0a0a"/><rect x="320.8" y="1389" width="5.2" height="69" fill="#0a0a0a"/><rect x="278" y="1418.4" width="45" height="4.8" fill="#0a0a0a"/><rect x="332" y="1389" width="40.2" height="5.4" fill="#0a0a0a"/><rect x="349.4" y="1389" width="5.4" height="69" fill="#0a0a0a"/>
<g font-family="Liberation Serif, serif" fill="#555555" stroke="#fff" stroke-width="2.2"><text transform="translate(841.53,1428.8) scale(1.0790,1)" font-size="143">D</text><text transform="translate(950.94,1428.8) scale(0.6725,1)" font-size="143">I</text><text transform="translate(1021.42,1428.8) scale(0.8804,1)" font-size="143">V</text><text transform="translate(1100.76,1428.8) scale(0.8662,1)" font-size="143">A</text><text transform="translate(1192.09,1428.8) scale(0.8461,1)" font-size="143">P</text><text transform="translate(1256.99,1428.8) scale(1.0593,1)" font-size="143">O</text><text transform="translate(1365.99,1428.8) scale(1.0643,1)" font-size="143">R</text></g>
<circle cx="1456" cy="1345.6" r="9" stroke="#555" stroke-width="1.6" fill="none"/><text x="1451.2" y="1351.3" font-size="14.5" fill="#555">R</text>
<text x="975" y="1476.7" font-size="47" fill="#8c8c8c" stroke="#fff" stroke-width="0.9" textLength="356" lengthAdjust="spacingAndGlyphs">www.divapor.com</text>
</svg></body></html>
